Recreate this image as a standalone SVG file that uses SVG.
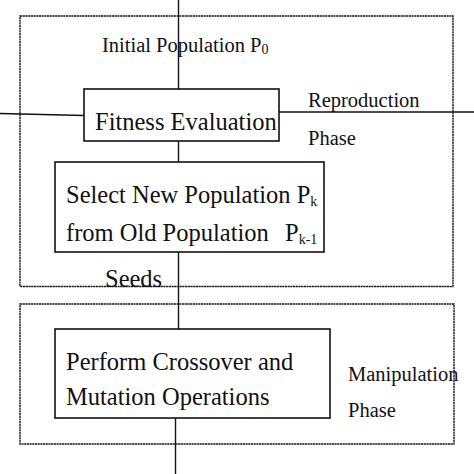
<svg xmlns="http://www.w3.org/2000/svg" width="474" height="474" viewBox="0 0 474 474">
<style>
.phase{fill:none;stroke:#1a1a1a;stroke-width:1.4;stroke-dasharray:2.2 0.5}
.box{fill:#fff;stroke:#111;stroke-width:1.6}
.ln{fill:none;stroke:#111;stroke-width:1.4}
text{font-family:"Liberation Serif","Times New Roman",serif;fill:#111}
.big{font-size:24.5px}
.mid{font-size:20.5px}
.sub{font-size:14px}
</style>
<rect width="474" height="474" fill="#fff"/>
<g id="reproduction-phase">
<rect class="phase" x="20" y="16" width="433" height="270.5"/>
<text class="mid" x="308" y="107">Reproduction</text>
<text class="mid" x="308" y="145">Phase</text>
</g>
<g id="manipulation-phase">
<rect class="phase" x="20" y="304" width="434" height="140"/>
<text class="mid" x="348" y="381">Manipulation</text>
<text class="mid" x="348" y="417">Phase</text>
</g>
<g id="connectors">
<line class="ln" x1="178.5" y1="0" x2="178.5" y2="89"/>
<line class="ln" x1="178.5" y1="141" x2="178.5" y2="162"/>
<line class="ln" x1="178.5" y1="252" x2="178.5" y2="329"/>
<line class="ln" x1="175.5" y1="418" x2="175.5" y2="474"/>
<line class="ln" x1="0" y1="113.5" x2="84" y2="115.5"/>
<line class="ln" x1="279" y1="112" x2="474" y2="112"/>
</g>
<g id="initial-population">
<text class="mid" x="102" y="52">Initial Population P<tspan class="sub" dy="2">0</tspan></text>
</g>
<g id="fitness-evaluation">
<rect class="box" x="84" y="89" width="195" height="52"/>
<text class="big" x="95" y="130">Fitness Evaluation</text>
</g>
<g id="select-population">
<rect class="box" x="55" y="162" width="269" height="90"/>
<text class="big" x="66" y="203">Select New Population P<tspan class="sub" dy="3">k</tspan></text>
<text class="big" x="66" y="241">from Old Population</text>
<text class="big" x="285" y="241">P<tspan class="sub" dy="3">k-1</tspan></text>
</g>
<g id="seeds">
<text class="big" x="105" y="287">Seeds</text>
</g>
<g id="crossover-mutation">
<rect class="box" x="55" y="329" width="275" height="89"/>
<text class="big" x="66" y="370">Perform Crossover and</text>
<text class="big" x="66" y="405">Mutation Operations</text>
</g>
</svg>
